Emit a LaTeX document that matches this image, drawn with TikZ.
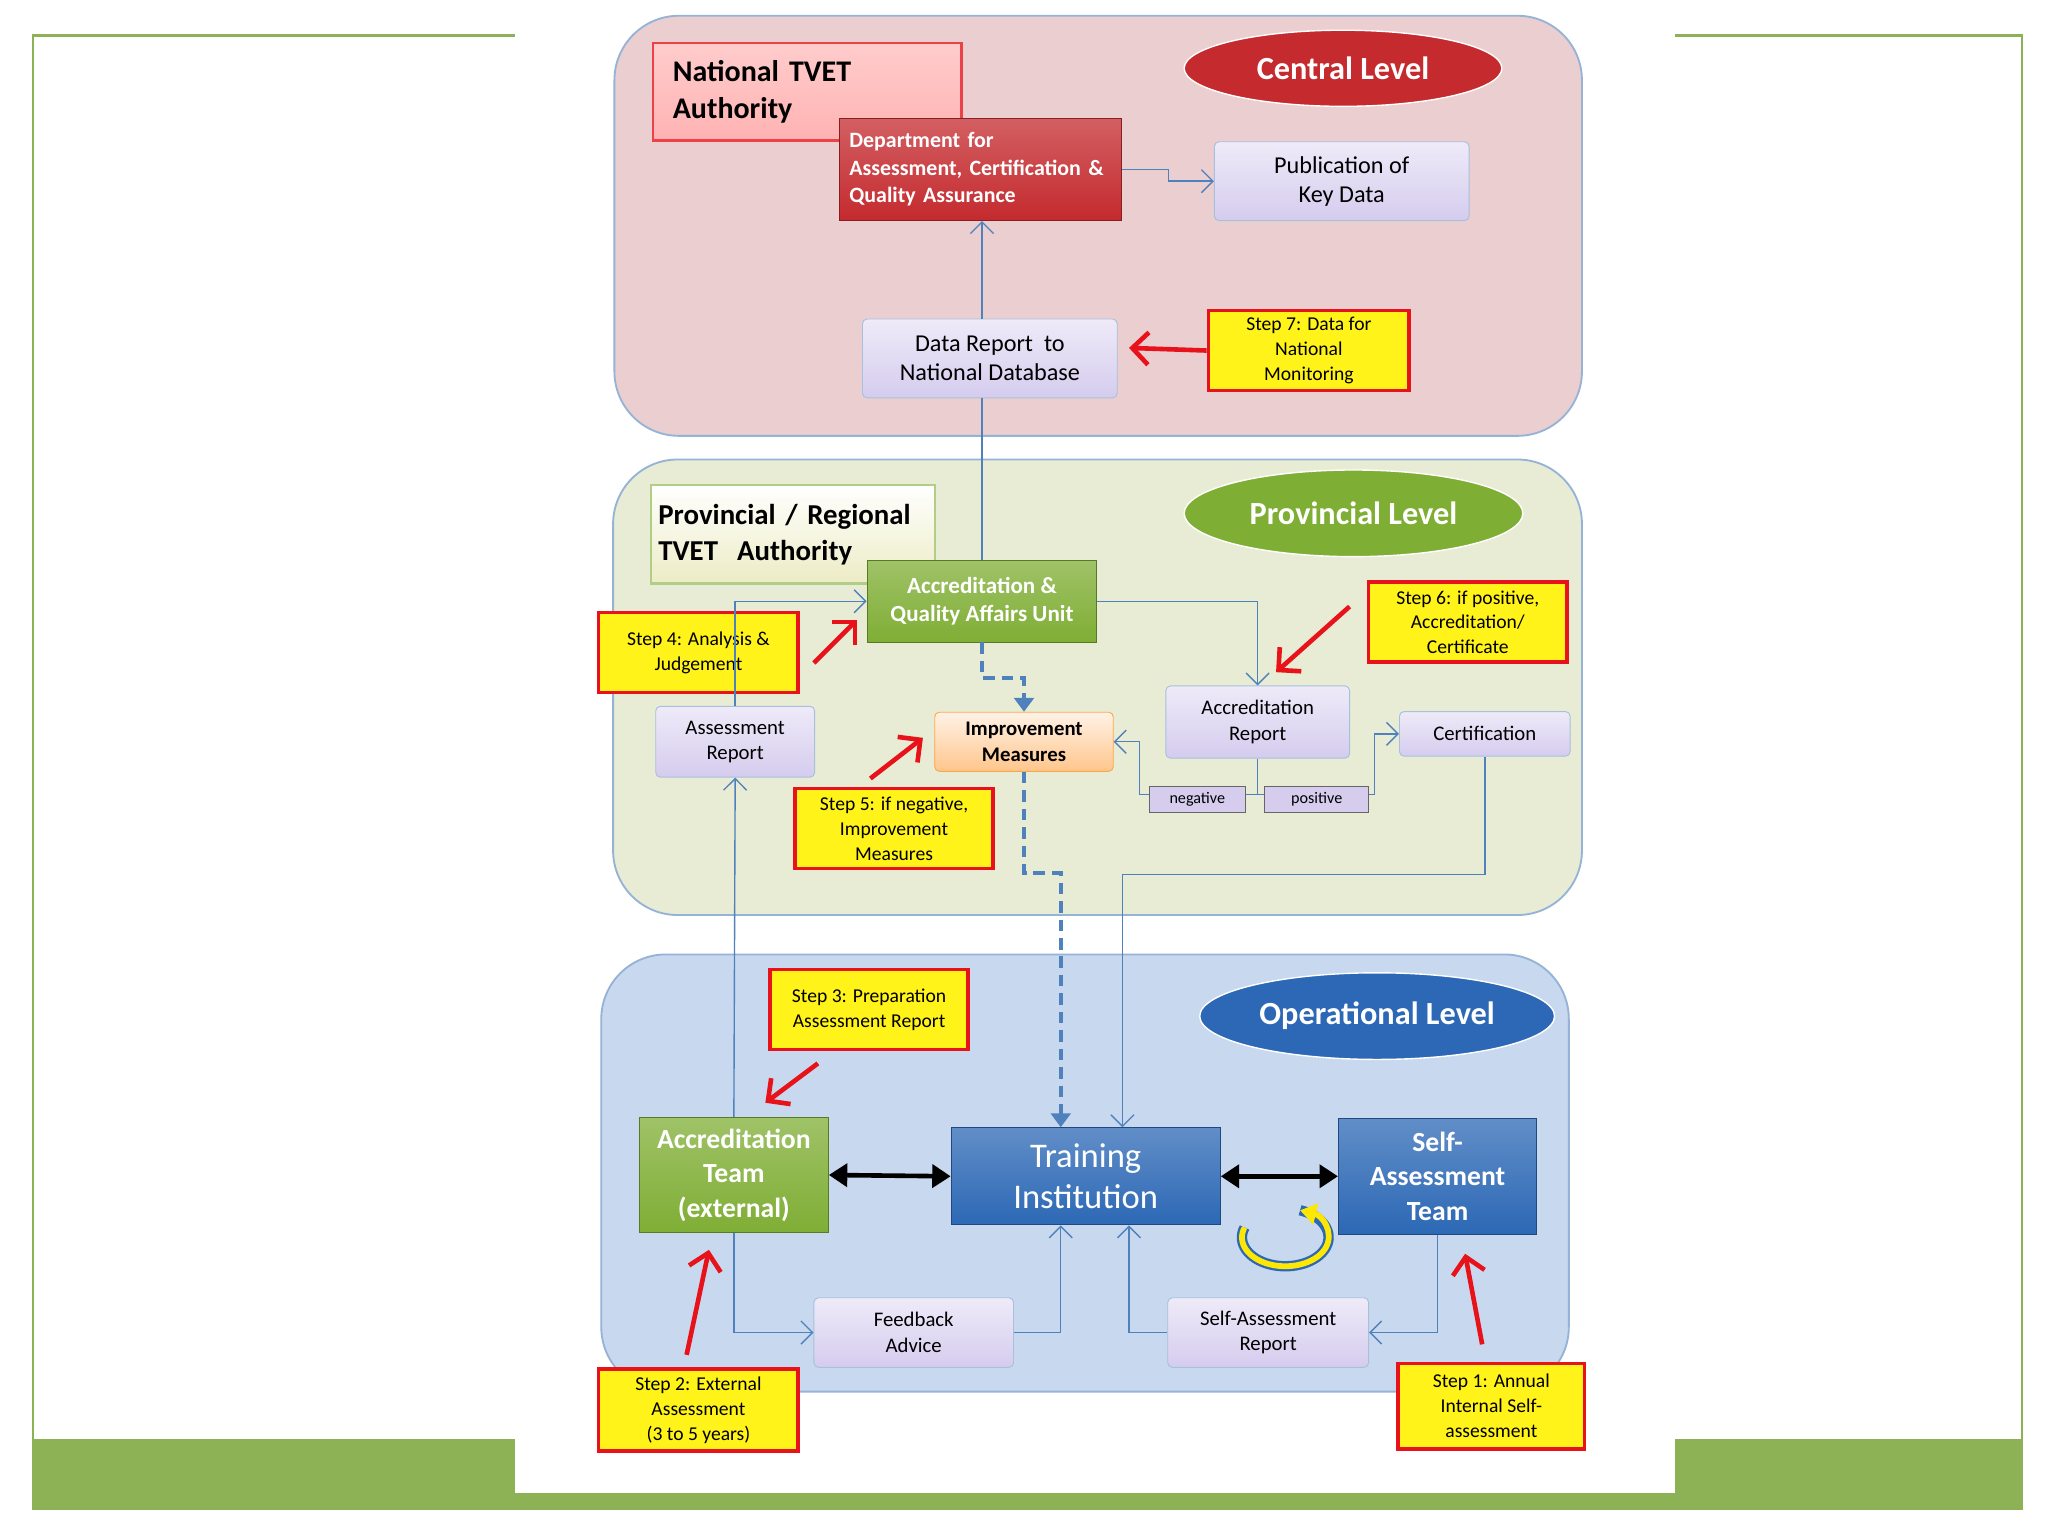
\documentclass[tikz,border=0pt]{standalone}
\usepackage{fontspec}
\setmainfont{Carlito}
\usetikzlibrary{arrows.meta,shapes.geometric,positioning}
\definecolor{frame}{HTML}{8DB255}
\definecolor{wire}{HTML}{4F81BD}
\definecolor{lav}{HTML}{D5CCEE}
\definecolor{stepred}{HTML}{E8121A}
\definecolor{leafgreen}{HTML}{7FAE35}
\definecolor{deepblue}{HTML}{2C68B5}
\definecolor{deepred}{HTML}{C42A2E}
\tikzset{
  panel/.style={draw=wire!60, rounded corners=28pt, line width=0.8pt},
  box/.style={draw=wire!50, rounded corners=2pt, top color=white!60!lav, bottom color=lav,
    align=center, font=\fontsize{10.5}{12.5}\selectfont, inner sep=1pt},
  stepnote/.style={draw=stepred, line width=1.6pt, fill=yellow!90!white, align=center,
    font=\fontsize{8.5}{10.8}\selectfont, inner sep=1pt},
  level/.style={ellipse, draw=white, line width=0.6pt, text=white,
    font=\bfseries\fontsize{14}{16}\selectfont},
  solid box/.style={draw=#1!70!black, top color=#1!75!white, bottom color=#1,
    text=white, align=center, inner sep=1pt},
  link/.style={draw=wire, line width=0.6pt, -{Straight Barb[length=5pt]}},
  dlink/.style={draw=wire, line width=1.6pt, dash pattern=on 5pt off 3pt, -{Triangle[length=6pt]}},
  both/.style={draw=black, line width=2pt, {Triangle[length=8pt]}-{Triangle[length=8pt]}},
  redarrow/.style={draw=stepred, line width=2pt, -{Straight Barb[length=7pt]}},
  tag/.style={draw=black!60, fill=lav, font=\fontsize{7}{8}\selectfont, inner sep=1pt,
    minimum height=11pt}
}
\begin{document}
\begin{tikzpicture}[x=0.02cm,y=-0.02cm]
\useasboundingbox (0,0) rectangle (1560,1170);
% frame and bar
\fill[frame] (25,1096) rectangle (1540,1150);
\draw[frame, line width=1pt] (25,1150) -- (25,27) -- (392,27);
\draw[frame, line width=1pt] (1276,27) -- (1540,27) -- (1540,1150);
\fill[white] (392,0) rectangle (1276,1137);

% level panels
\draw[panel, fill={rgb,255:red,234;green,206;blue,208}] (468,12) rectangle (1205,332);
\draw[panel, fill={rgb,255:red,232;green,236;blue,212}] (467,350) rectangle (1205,697);
\draw[panel, fill={rgb,255:red,200;green,216;blue,238}] (458,727) rectangle (1195,1060);

% central level
\node[level, fill=deepred, minimum width=242*0.02cm, minimum height=58*0.02cm] (central) at (1023,52) {Central Level};
\node[draw=stepred!80, line width=1pt, top color=white!80!red, bottom color=red!30!white, minimum width=235*0.02cm, minimum height=74*0.02cm, text width=205*0.02cm, align=left, font=\bfseries\fontsize{13}{16}\selectfont] (national) at (615,70) {National TVET\\Authority};
\node[solid box=deepred, minimum width=215*0.02cm, minimum height=78*0.02cm, text width=200*0.02cm, align=left, font=\bfseries\fontsize{9.5}{12}\selectfont] (dept) at (747,129) {Department for\\Assessment, Certification \&\\Quality Assurance};
\node[box, minimum width=194*0.02cm, minimum height=60*0.02cm] (pub) at (1022,138) {Publication of\\Key Data};
\node[box, minimum width=194*0.02cm, minimum height=60*0.02cm] (datarep) at (754,273) {Data Report~ to\\National Database};
\node[stepnote, minimum width=153*0.02cm, minimum height=61*0.02cm] (step7) at (997,267) {Step 7: Data for\\National\\Monitoring};

% provincial level
\node[level, fill=leafgreen, minimum width=258*0.02cm, minimum height=66*0.02cm] (provincial) at (1031,391) {Provincial Level};
\node[draw=leafgreen!60, line width=1pt, top color=white, bottom color=olive!15!white, minimum width=214*0.02cm, minimum height=75*0.02cm, text width=205*0.02cm, align=left, font=\bfseries\fontsize{12.5}{15.5}\selectfont] (regional) at (604,407) {\raggedright Provincial / Regional\\TVET~ Authority};
\node[solid box=leafgreen, minimum width=175*0.02cm, minimum height=62*0.02cm, font=\bfseries\fontsize{10}{12}\selectfont] (unit) at (748,458) {Accreditation \&\\Quality Affairs Unit};
\node[stepnote, minimum width=152*0.02cm, minimum height=61*0.02cm] (step4) at (532,497) {Step 4: Analysis \&\\Judgement};
\node[stepnote, minimum width=151*0.02cm, minimum height=61*0.02cm] (step6) at (1118,474) {Step 6: if positive,\\Accreditation/\\Certificate};
\node[box, minimum width=121*0.02cm, minimum height=54*0.02cm, font=\fontsize{9}{11}\selectfont] (assrep) at (560,565) {Assessment\\Report};
\node[draw=orange!70, rounded corners=2pt, top color=orange!10!white, bottom color=orange!45!white, align=center, inner sep=1pt, minimum width=136*0.02cm, minimum height=45*0.02cm, font=\bfseries\fontsize{9}{11}\selectfont] (improve) at (780,565) {Improvement\\Measures};
\node[box, minimum width=140*0.02cm, minimum height=55*0.02cm, font=\fontsize{9}{11}\selectfont] (accrep) at (958,550) {Accreditation\\Report};
\node[box, minimum width=130*0.02cm, minimum height=34*0.02cm, font=\fontsize{9}{11}\selectfont] (cert) at (1131,559) {Certification};
\node[stepnote, minimum width=151*0.02cm, minimum height=61*0.02cm] (step5) at (681,631) {Step 5: if negative,\\Improvement\\Measures};

% operational level
\node[level, fill=deepblue, minimum width=260*0.02cm, minimum height=66*0.02cm] (operational) at (1049,774) {Operational Level};
\node[stepnote, minimum width=151*0.02cm, minimum height=61*0.02cm] (step3) at (662,769) {Step 3: Preparation\\Assessment Report};
\node[solid box=leafgreen, minimum width=144*0.02cm, minimum height=88*0.02cm, font=\bfseries\fontsize{12}{15}\selectfont] (team) at (559,895) {Accreditation\\Team\\(external)};
\node[solid box=deepblue, minimum width=205*0.02cm, minimum height=74*0.02cm, font=\fontsize{15}{18}\selectfont] (inst) at (827,896) {Training\\Institution};
\node[solid box=deepblue, minimum width=151*0.02cm, minimum height=88*0.02cm, font=\bfseries\fontsize{12}{15}\selectfont] (selfteam) at (1095,896) {Self-\\Assessment\\Team};
\node[box, minimum width=152*0.02cm, minimum height=53*0.02cm, font=\fontsize{9}{11}\selectfont] (feedback) at (696,1015) {Feedback\\Advice};
\node[box, minimum width=153*0.02cm, minimum height=53*0.02cm, font=\fontsize{9}{11}\selectfont] (sarep) at (966,1015) {Self-Assessment\\Report};
\node[stepnote, minimum width=152*0.02cm, minimum height=62*0.02cm] (step2) at (532,1074) {Step 2: External\\Assessment\\(3 to 5 years)};
\node[stepnote, minimum width=142*0.02cm, minimum height=65*0.02cm] (step1) at (1136,1071) {Step 1: Annual\\Internal Self-\\assessment};

% connectors
\draw[link] (dept.east) -- ++(35,0) |- (pub.west);
\draw[link] (datarep.north -| 748,0) -- (dept.south -| 748,0);
\draw[draw=wire, line width=0.6pt] (unit.north) -- (unit.north |- datarep.south);
\draw[link] (assrep.north) |- (unit.west);
\draw[link] (unit.east) -| (accrep.north);
\draw[dlink] (unit.south) -- ++(0,27) -| (improve.north);
\coordinate (split) at (958,605);
\draw[link] (accrep.south) -- (split) -| (868,575) |- (improve.east);
\draw[link] (split) -| (1047,575) |- (cert.west);
\node[tag, minimum width=73*0.02cm] (neg) at (912,609) {negative};
\node[tag, minimum width=79*0.02cm] (pos) at (1003,609) {positive};
\draw[link] (cert.south) |- (855,666) -- (inst.north -| 855,0);
\draw[dlink] (improve.south) |- (808,665) -- (inst.north -| 808,0);
\draw[link] (team.north) -- (assrep.south);
\draw[link] (team.south) |- (feedback.west);
\draw[link] (feedback.east) -| (inst.south -| 808,0);
\draw[link] (sarep.west) -| (inst.south -| 860,0);
\draw[link] (selfteam.south) |- (sarep.east);
\draw[both] (team.east) -- (inst.west);
\draw[both] (inst.east) -- (selfteam.west);

% step arrows
\draw[redarrow] (step7.west) -- (860,265);
\draw[redarrow] (620,505) -- (653,472);
\draw[redarrow] (1028,462) -- (972,512);
\draw[redarrow] (663,593) -- (703,562);
\draw[redarrow] (623,810) -- (583,840);
\draw[redarrow] (523,1032) -- (540,952);
\draw[redarrow] (1129,1024) -- (1116,955);

% cycle symbol
\draw[draw=deepblue, line width=4.5pt] (948,935) arc (200:-70:33 and 22);
\draw[draw=yellow!90!orange, line width=2.5pt, -{Triangle[length=7pt,width=9pt]}] (948,935) arc (200:-70:33 and 22);
\end{tikzpicture}
\end{document}
